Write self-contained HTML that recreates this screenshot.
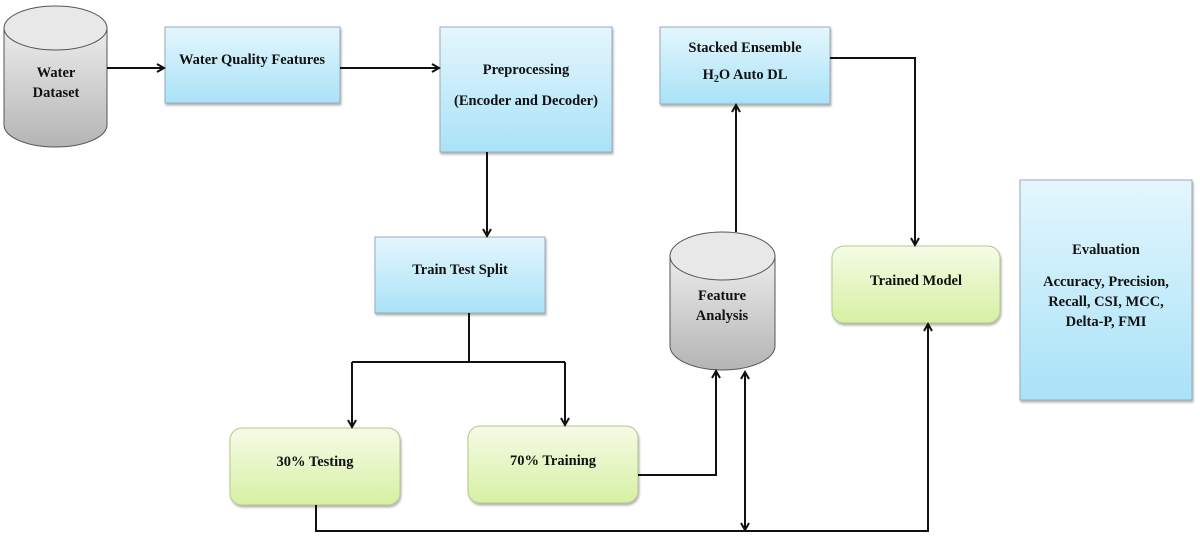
<!DOCTYPE html>
<html><head><meta charset="utf-8"><style>
html,body{margin:0;padding:0;background:#fff;width:1200px;height:541px;overflow:hidden}
text{font-family:"Liberation Serif",serif;font-weight:bold;font-size:14.5px;fill:#111;text-anchor:middle}
</style></head><body>
<svg width="1200" height="541" viewBox="0 0 1200 541" xmlns="http://www.w3.org/2000/svg">
<defs>
<linearGradient id="b" x1="0" y1="0" x2="0" y2="1"><stop offset="0" stop-color="#e4f6fd"/><stop offset="1" stop-color="#a9e2f7"/></linearGradient>
<linearGradient id="g" x1="0" y1="0" x2="0" y2="1"><stop offset="0" stop-color="#f5fbe6"/><stop offset="1" stop-color="#d7f0a4"/></linearGradient>
<linearGradient id="c" x1="0" y1="0" x2="0" y2="1"><stop offset="0" stop-color="#ececec"/><stop offset="1" stop-color="#b4b4b4"/></linearGradient>
<marker id="a" markerWidth="10" markerHeight="10" refX="8" refY="5" orient="auto" markerUnits="userSpaceOnUse"><path d="M1,1 L8,5 L1,9" fill="none" stroke="#111" stroke-width="2"/></marker>
<filter id="s"><feDropShadow dx="1" dy="2" stdDeviation="1" flood-opacity="0.3"/></filter>
</defs>
<g stroke="#9ab" stroke-width="1" filter="url(#s)">
<rect x="165" y="27" width="175" height="76" fill="url(#b)"/>
<rect x="440" y="27" width="172" height="125" fill="url(#b)"/>
<rect x="375" y="237" width="170" height="76" fill="url(#b)"/>
<rect x="660" y="27" width="170" height="77" fill="url(#b)"/>
<rect x="1020" y="180" width="172" height="220" fill="url(#b)"/>
</g>
<g stroke="#b5c98a" stroke-width="1" filter="url(#s)">
<rect x="230" y="428" width="170" height="77" rx="12" fill="url(#g)"/>
<rect x="468" y="426" width="170" height="77" rx="12" fill="url(#g)"/>
<rect x="832" y="246" width="168" height="77" rx="12" fill="url(#g)"/>
</g>
<g stroke="#555" stroke-width="1">
<path d="M4,28 L4,125 A51.5,22 0 0 0 107,125 L107,28" fill="url(#c)"/>
<ellipse cx="55.5" cy="28" rx="51.5" ry="22" fill="#e8e8e8"/>
<path d="M670,256 L670,346 A52.5,24 0 0 0 775,346 L775,256" fill="url(#c)"/>
<ellipse cx="722.5" cy="256" rx="52.5" ry="24" fill="#e8e8e8"/>
</g>
<g stroke="#111" stroke-width="2" fill="none">
<line x1="107" y1="68" x2="164" y2="68" marker-end="url(#a)"/>
<line x1="340" y1="68" x2="439" y2="68" marker-end="url(#a)"/>
<line x1="487" y1="152" x2="487" y2="236" marker-end="url(#a)"/>
<path d="M469,313 V362 M352,362 H565"/>
<line x1="352" y1="362" x2="352" y2="427" marker-end="url(#a)"/>
<line x1="565" y1="362" x2="565" y2="425" marker-end="url(#a)"/>
<path d="M638,475 H716 V371" marker-end="url(#a)"/>
<line x1="736" y1="232" x2="736" y2="105" marker-end="url(#a)"/>
<path d="M830,58 H915 V245" marker-end="url(#a)"/>
<path d="M316,505 V531 H928 V324" marker-end="url(#a)"/>
<line x1="745" y1="531" x2="745" y2="372" marker-end="url(#a)"/>
<line x1="745" y1="380" x2="745" y2="530" marker-end="url(#a)"/>
</g>
<text x="56" y="77">Water</text>
<text x="56" y="97">Dataset</text>
<text x="252" y="64">Water Quality Features</text>
<text x="526" y="74">Preprocessing</text>
<text x="526" y="105">(Encoder and Decoder)</text>
<text x="460" y="274">Train Test Split</text>
<text x="745" y="52">Stacked Ensemble</text>
<text x="745" y="79">H<tspan font-size="10" dy="3">2</tspan><tspan dy="-3">O Auto DL</tspan></text>
<text x="722" y="300">Feature</text>
<text x="722" y="320">Analysis</text>
<text x="315" y="466">30% Testing</text>
<text x="553" y="465">70% Training</text>
<text x="916" y="285">Trained Model</text>
<text x="1106" y="254">Evaluation</text>
<text x="1106" y="286">Accuracy, Precision,</text>
<text x="1106" y="306">Recall, CSI, MCC,</text>
<text x="1106" y="326">Delta-P, FMI</text>
</svg>
</body></html>
